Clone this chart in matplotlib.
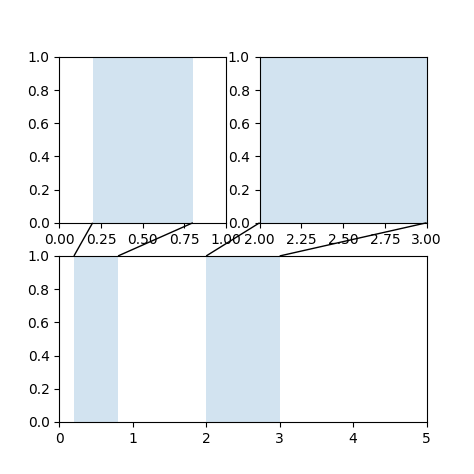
import matplotlib
matplotlib.use("Agg")
import matplotlib.pyplot as plt
from matplotlib.transforms import Bbox, TransformedBbox, blended_transform_factory
from mpl_toolkits.axes_grid1.inset_locator import BboxConnector, BboxConnectorPatch, BboxPatch

main_xlim = (0, 5)
zoom1_range = (0.2, 0.8)
zoom2_xlim = (2, 3)


def connect_bbox(bbox1, bbox2, loc1a, loc2a, loc1b, loc2b, prop_lines, prop_patches):
    c1 = BboxConnector(bbox1, bbox2, loc1=loc1a, loc2=loc2a, clip_on=False, **prop_lines)
    c2 = BboxConnector(bbox1, bbox2, loc1=loc1b, loc2=loc2b, clip_on=False, **prop_lines)
    bbox_patch1 = BboxPatch(bbox1, **prop_patches)
    bbox_patch2 = BboxPatch(bbox2, **prop_patches)
    p = BboxConnectorPatch(bbox1, bbox2, loc1a=loc1a, loc2a=loc2a, loc1b=loc1b, loc2b=loc2b,
                           clip_on=False, **prop_patches)
    return c1, c2, bbox_patch1, bbox_patch2, p


def zoom_effect01(ax1, ax2, xmin, xmax):
    bbox = Bbox.from_extents(xmin, 0, xmax, 1)
    mybbox1 = TransformedBbox(bbox, blended_transform_factory(ax1.transData, ax1.transAxes))
    mybbox2 = TransformedBbox(bbox, blended_transform_factory(ax2.transData, ax2.transAxes))
    prop_patches = {"ec": "none", "alpha": 0.2}
    c1, c2, bp1, bp2, p = connect_bbox(mybbox1, mybbox2, 3, 2, 4, 1, {}, prop_patches)
    ax1.add_patch(bp1)
    ax2.add_patch(bp2)
    ax2.add_patch(c1)
    ax2.add_patch(c2)
    ax2.add_patch(p)


def zoom_effect02(ax1, ax2):
    tt = ax1.transScale + (ax1.transLimits + ax2.transAxes)
    trans = blended_transform_factory(ax2.transData, tt)
    mybbox1 = ax1.bbox
    mybbox2 = TransformedBbox(ax1.viewLim, trans)
    prop_patches = {"ec": "none", "alpha": 0.2}
    c1, c2, bp1, bp2, p = connect_bbox(mybbox1, mybbox2, 3, 2, 4, 1, {}, prop_patches)
    ax1.add_patch(bp1)
    ax2.add_patch(bp2)
    ax2.add_patch(c1)
    ax2.add_patch(c2)
    ax2.add_patch(p)


fig = plt.figure(figsize=(4.74, 4.74), dpi=100)
axs = fig.subplot_mosaic([["zoom1", "zoom2"], ["main", "main"]])
axs["main"].set(xlim=main_xlim)
zoom_effect01(axs["zoom1"], axs["main"], *zoom1_range)
axs["zoom2"].set(xlim=zoom2_xlim)
zoom_effect02(axs["zoom2"], axs["main"])
fig.savefig("out.png")
